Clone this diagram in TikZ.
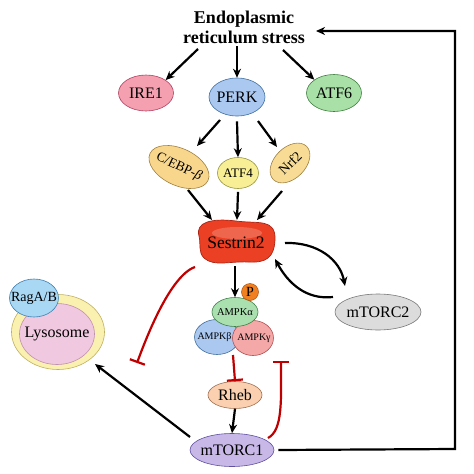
\documentclass[tikz,border=0pt]{standalone}
\usepackage{fontspec}
\setmainfont{Liberation Serif}
\usetikzlibrary{arrows.meta,shapes.geometric}
\definecolor{inhred}{HTML}{C00000}
\newcommand{\zw}[1]{\makebox[0pt]{#1}}
\tikzset{
  ov/.style={ellipse,draw,line width=0.6pt,inner sep=0pt,font=\fontsize{16}{16}\selectfont},
  act/.style={line width=2.2pt,-{Stealth[length=9pt,width=8pt]}},
  inh/.style={line width=2.2pt,inhred,-{Bar[width=16pt,line width=2.2pt]}},
}
\begin{document}
\begin{tikzpicture}[x=1pt,y=-1pt]
\useasboundingbox (0,0) rectangle (474,474);
% title
\node[font=\bfseries\fontsize{18}{20}\selectfont,align=center] (ers) at (244,27) {Endoplasmic\\reticulum stress};
% first level
\node[ov,fill={rgb,255:red,244;green,160;blue,176},draw={rgb,255:red,176;green,64;blue,96},minimum width=55pt,minimum height=36pt] (ire) at (146,93) {\zw{IRE1}};
\node[ov,fill={rgb,255:red,170;green,200;blue,240},draw={rgb,255:red,64;green,112;blue,160},minimum width=56pt,minimum height=38pt] (perk) at (237,97) {\zw{PERK}};
\node[ov,fill={rgb,255:red,168;green,224;blue,168},draw={rgb,255:red,64;green,128;blue,64},minimum width=55pt,minimum height=37pt] (atf6) at (334,93) {\zw{ATF6}};
% second level
\node[ov,fill={rgb,255:red,248;green,214;blue,140},draw={rgb,255:red,160;green,128;blue,64},minimum width=64pt,minimum height=37pt,rotate=-25,font=\fontsize{13.5}{13.5}\selectfont] (cebp) at (179,167) {\zw{C/EBP-\textit{β}}};
\node[ov,fill={rgb,255:red,248;green,238;blue,150},draw={rgb,255:red,150;green,150;blue,60},minimum width=41pt,minimum height=31pt,font=\fontsize{13}{13}\selectfont] (atf4) at (238,173) {\zw{ATF4}};
\node[ov,fill={rgb,255:red,248;green,220;blue,150},draw={rgb,255:red,160;green,128;blue,64},minimum width=47pt,minimum height=31pt,rotate=45,font=\fontsize{14}{14}\selectfont] (nrf) at (290,163) {\zw{Nrf2}};
% Sestrin2
\path[fill={rgb,255:red,236;green,64;blue,36},draw={rgb,255:red,170;green,36;blue,20},line width=0.7pt]
  (199,236) .. controls (195,222) and (212,218) .. (236,221)
  .. controls (258,224) and (276,218) .. (275,240)
  .. controls (274,258) and (266,263) .. (248,262)
  .. controls (230,261) and (214,267) .. (204,258)
  .. controls (198,252) and (201,244) .. (199,236) -- cycle;
\fill[white,opacity=0.2] (237,233) ellipse (25pt and 6pt);
\node[font=\fontsize{17.5}{17.5}\selectfont] (ses) at (236,243) {Sestrin2};
% AMPK complex
\node[ov,fill={rgb,255:red,170;green,200;blue,240},draw={rgb,255:red,64;green,112;blue,160},minimum width=45pt,minimum height=35pt,font=\fontsize{10}{10}\selectfont] (ampkb) at (217,337) {\zw{\hspace{-5pt}AMPKβ}};
\node[ov,fill={rgb,255:red,244;green,168;blue,168},draw={rgb,255:red,176;green,80;blue,80},minimum width=41pt,minimum height=35pt,font=\fontsize{10}{10}\selectfont] (ampkg) at (253,338) {\zw{\hspace{2pt}AMPKγ}};
\node[ov,fill={rgb,255:red,170;green,224;blue,176},draw={rgb,255:red,64;green,128;blue,72},minimum width=46pt,minimum height=29pt,font=\fontsize{10.5}{10.5}\selectfont] (ampka) at (235,312) {\zw{AMPKα}};
\node[circle,fill={rgb,255:red,240;green,128;blue,32},draw={rgb,255:red,176;green,80;blue,16},line width=0.5pt,minimum size=17pt,inner sep=0pt,font=\fontsize{14}{14}\selectfont] (p) at (250,292) {\zw{P}};
% mTORC2
\node[ov,fill={rgb,255:red,220;green,220;blue,220},draw={rgb,255:red,120;green,120;blue,120},minimum width=86pt,minimum height=36pt] (mt2) at (378,312) {\zw{mTORC2}};
% Lysosome
\node[ellipse,fill={rgb,255:red,250;green,240;blue,176},draw={rgb,255:red,192;green,176;blue,96},line width=0.6pt,minimum width=93pt,minimum height=75pt,inner sep=0pt] (lysout) at (58,332) {};
\node[ov,fill={rgb,255:red,240;green,200;blue,224},draw={rgb,255:red,192;green,144;blue,176},minimum width=75pt,minimum height=61pt] (lys) at (57,334) {\zw{Lysosome}};
\node[ov,fill={rgb,255:red,168;green,216;blue,244},draw={rgb,255:red,64;green,128;blue,176},minimum width=49pt,minimum height=38pt,font=\fontsize{14}{14}\selectfont] (rag) at (34,298) {\zw{RagA/B}};
% Rheb & mTORC1
\node[ov,fill={rgb,255:red,250;green,208;blue,176},draw={rgb,255:red,160;green,112;blue,80},minimum width=54pt,minimum height=27pt] (rheb) at (235,395) {\zw{Rheb}};
\node[ov,fill={rgb,255:red,200;green,184;blue,232},draw={rgb,255:red,96;green,80;blue,160},minimum width=84pt,minimum height=33pt] (mt1) at (232,450) {\zw{mTORC1}};
% arrows from ER stress
\draw[act] (198,49) -- (ire.north east);
\draw[act] (237,46) -- (perk.north);
\draw[act] (283,50) -- (atf6.north west);
% arrows from PERK
\draw[act] (220,120) -- (197,146);
\draw[act] (perk.south) ++(0,5) -- (atf4.north);
\draw[act] (258,121) -- (277,147);
% arrows to Sestrin2
\draw[act] (188,190) -- (212,220);
\draw[act] (atf4.south) ++(0,3) -- (237,220);
\draw[act] (282,191) -- (257,220);
% Sestrin2 -> AMPK
\draw[act] (235,266) -- (ampka.north);
% Sestrin2 <-> mTORC2
\draw[line width=2.2pt,-{Stealth[length=9pt,width=8pt]}] (285,243) .. controls (318,242) and (340,260) .. (345,286);
\draw[line width=2.2pt,-{Stealth[length=9pt,width=8pt]}] (333,297) .. controls (306,300) and (288,283) .. (275,259);
% inhibitions
\draw[inh] (195,267) .. controls (180,272) and (160,300) .. (137,363);
\draw[inh] (233,355) -- (rheb.north);
\draw[inh] (268,438) .. controls (283,430) and (281,400) .. (281,361);
% Rheb -> mTORC1
\draw[act] (rheb.south) -- (mt1.north);
% mTORC1 -> lysosome
\draw[act] (190,437) -- (95,364);
% feedback
\coordinate (fb1) at (455,449);
\coordinate (fb2) at (455,31);
\draw[line width=2.2pt,-{Stealth[length=9pt,width=8pt]}] (mt1.east) ++(4,0) -- (fb1) -- (fb2) -- (316,31);
\end{tikzpicture}
\end{document}
